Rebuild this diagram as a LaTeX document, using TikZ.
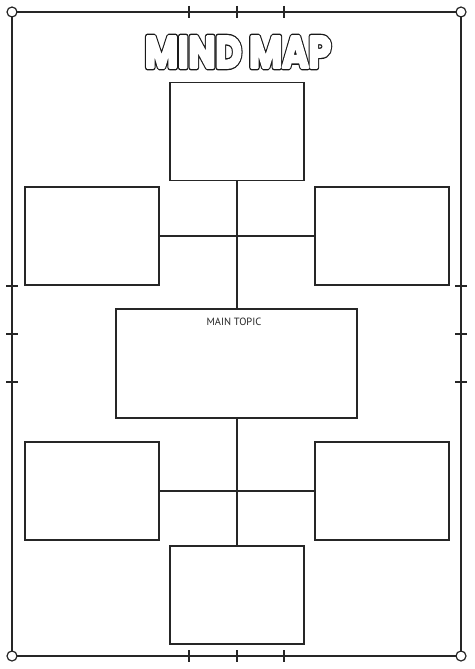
\documentclass[tikz,border=0pt]{standalone}
\usepackage{fontspec}
\usepackage{graphicx}
\newfontfamily\labelfont{PT Sans}
\newfontfamily\titlefont{Poppins}
\newcommand{\heavyoutline}[1]{%
  \rlap{\special{pdf:literal direct 2 Tr 0.1 g 0.1 G 5 w 1 j}#1\special{pdf:literal direct 0 Tr 0 g 0 G 1 w 0 j}}%
  \special{pdf:literal direct 2 Tr 1 g 1 G 2.6 w 1 j}#1\special{pdf:literal direct 0 Tr 0 g 0 G 1 w 0 j}}
\begin{document}
\begin{tikzpicture}[x=1pt,y=-1pt,
  box/.style={draw=black!85,line width=1.5pt,minimum width=134pt,minimum height=98pt,inner sep=0pt},
  link/.style={draw=black!85,line width=1.5pt},
  frameline/.style={draw=black!85,line width=1.3pt},
  corner/.style={circle,draw=black!85,line width=1.2pt,fill=white,minimum size=10pt,inner sep=0pt},
  tick/.style={draw=black!85,line width=1.3pt}]
\useasboundingbox[fill=white] (0,0) rectangle (474,669);
% frame
\coordinate (tl) at (12,12);
\coordinate (tr) at (461,12);
\coordinate (br) at (461,656);
\coordinate (bl) at (12,656);
\draw[frameline] (tl) -- (tr) -- (br) -- (bl) -- cycle;
% ticks
\foreach \x in {189,237,284}{
  \draw[tick] (\x,6) -- (\x,18);
  \draw[tick] (\x,650) -- (\x,662);
}
\foreach \y in {286,334,382}{
  \draw[tick] (6,\y) -- (18,\y);
  \draw[tick] (455,\y) -- (467,\y);
}
\node[corner] (ctl) at (tl) {};
\node[corner] (ctr) at (tr) {};
\node[corner] (cbr) at (br) {};
\node[corner] (cbl) at (bl) {};
% title
\node[inner sep=0pt] (title) at (238,52) {\resizebox{186pt}{31pt}{\titlefont\bfseries\fontsize{40}{40}\selectfont\heavyoutline{MIND MAP}}};
% boxes
\node[box] (top) at (237,131.5) {};
\node[box] (lu) at (92,236) {};
\node[box] (ru) at (382,236) {};
\node[box,minimum width=241pt,minimum height=109pt] (main) at (236.5,363.5) {};
\node[box] (ll) at (92,491) {};
\node[box] (lr) at (382,491) {};
\node[box] (bot) at (237,595) {};
\node[inner sep=0pt,font=\labelfont\fontsize{10.5}{12}\selectfont,text=black!85] (maintext) at (234,322) {MAIN TOPIC};
% connectors
\draw[link] (top.south) -- (top.south |- main.north);
\draw[link] (lu.east) -- (ru.west);
\draw[link] (bot.north |- main.south) -- (bot.north);
\draw[link] (ll.east) -- (lr.west);
\end{tikzpicture}
\end{document}
